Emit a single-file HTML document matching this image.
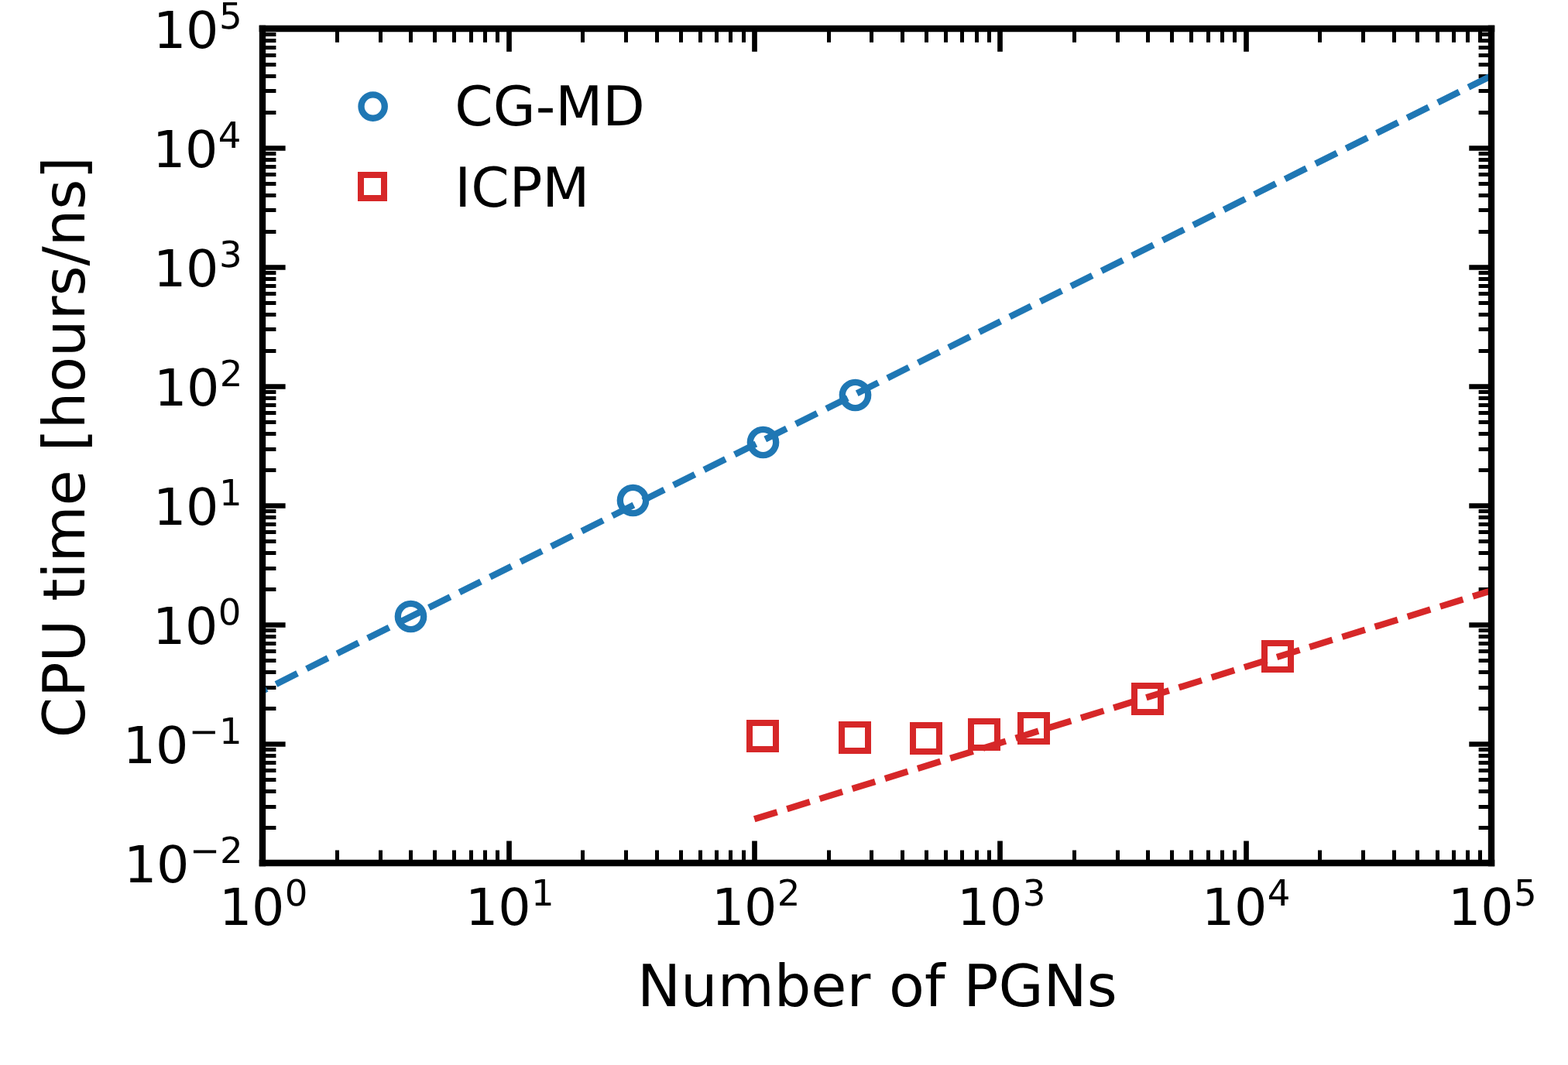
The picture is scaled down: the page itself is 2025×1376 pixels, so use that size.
<!DOCTYPE html>
<html lang="en"><head><meta charset="utf-8"><title>CPU time vs number of PGNs</title>
<style>html,body{margin:0;padding:0;background:#fff;}body{width:2025px;height:1376px;overflow:hidden;}svg{display:block;}text{font-family:'DejaVu Sans', 'Liberation Sans', sans-serif;fill:#000;text-rendering:geometricPrecision;}</style>
</head><body>
<svg width="2025" height="1376" viewBox="0 0 2025 1376">
<rect x="0" y="0" width="2025" height="1376" fill="#ffffff"/>
<defs><clipPath id="axclip"><rect x="339.00" y="37.00" width="1587.00" height="1078.00"/></clipPath></defs>
<g id="ticks" stroke="#000" fill="none" stroke-linecap="butt">
<path stroke-width="5.00" d="M435.50 1115.00V1098.53M435.50 37.00V54.67M491.50 1115.00V1098.53M491.50 37.00V54.67M530.50 1115.00V1098.53M530.50 37.00V54.67M561.50 1115.00V1098.53M561.50 37.00V54.67M586.50 1115.00V1098.53M586.50 37.00V54.67M608.50 1115.00V1098.53M608.50 37.00V54.67M626.50 1115.00V1098.53M626.50 37.00V54.67M642.50 1115.00V1098.53M642.50 37.00V54.67M752.50 1115.00V1098.53M752.50 37.00V54.67M808.50 1115.00V1098.53M808.50 37.00V54.67M848.50 1115.00V1098.53M848.50 37.00V54.67M879.50 1115.00V1098.53M879.50 37.00V54.67M904.50 1115.00V1098.53M904.50 37.00V54.67M925.50 1115.00V1098.53M925.50 37.00V54.67M943.50 1115.00V1098.53M943.50 37.00V54.67M960.50 1115.00V1098.53M960.50 37.00V54.67M1070.50 1115.00V1098.53M1070.50 37.00V54.67M1125.50 1115.00V1098.53M1125.50 37.00V54.67M1165.50 1115.00V1098.53M1165.50 37.00V54.67M1196.50 1115.00V1098.53M1196.50 37.00V54.67M1221.50 1115.00V1098.53M1221.50 37.00V54.67M1242.50 1115.00V1098.53M1242.50 37.00V54.67M1261.50 1115.00V1098.53M1261.50 37.00V54.67M1277.50 1115.00V1098.53M1277.50 37.00V54.67M1387.50 1115.00V1098.53M1387.50 37.00V54.67M1443.50 1115.00V1098.53M1443.50 37.00V54.67M1482.50 1115.00V1098.53M1482.50 37.00V54.67M1513.50 1115.00V1098.53M1513.50 37.00V54.67M1538.50 1115.00V1098.53M1538.50 37.00V54.67M1560.50 1115.00V1098.53M1560.50 37.00V54.67M1578.50 1115.00V1098.53M1578.50 37.00V54.67M1594.50 1115.00V1098.53M1594.50 37.00V54.67M1704.50 1115.00V1098.53M1704.50 37.00V54.67M1760.50 1115.00V1098.53M1760.50 37.00V54.67M1800.50 1115.00V1098.53M1800.50 37.00V54.67M1830.50 1115.00V1098.53M1830.50 37.00V54.67M1856.50 1115.00V1098.53M1856.50 37.00V54.67M1877.50 1115.00V1098.53M1877.50 37.00V54.67M1895.50 1115.00V1098.53M1895.50 37.00V54.67M1911.50 1115.00V1098.53M1911.50 37.00V54.67M339.00 1069.50H356.42M1926.00 1069.50H1909.63M339.00 1042.50H356.42M1926.00 1042.50H1909.63M339.00 1022.50H356.42M1926.00 1022.50H1909.63M339.00 1007.50H356.42M1926.00 1007.50H1909.63M339.00 995.50H356.42M1926.00 995.50H1909.63M339.00 985.50H356.42M1926.00 985.50H1909.63M339.00 976.50H356.42M1926.00 976.50H1909.63M339.00 968.50H356.42M1926.00 968.50H1909.63M339.00 915.50H356.42M1926.00 915.50H1909.63M339.00 888.50H356.42M1926.00 888.50H1909.63M339.00 868.50H356.42M1926.00 868.50H1909.63M339.00 853.50H356.42M1926.00 853.50H1909.63M339.00 841.50H356.42M1926.00 841.50H1909.63M339.00 831.50H356.42M1926.00 831.50H1909.63M339.00 822.50H356.42M1926.00 822.50H1909.63M339.00 814.50H356.42M1926.00 814.50H1909.63M339.00 761.50H356.42M1926.00 761.50H1909.63M339.00 734.50H356.42M1926.00 734.50H1909.63M339.00 714.50H356.42M1926.00 714.50H1909.63M339.00 699.50H356.42M1926.00 699.50H1909.63M339.00 687.50H356.42M1926.00 687.50H1909.63M339.00 677.50H356.42M1926.00 677.50H1909.63M339.00 668.50H356.42M1926.00 668.50H1909.63M339.00 660.50H356.42M1926.00 660.50H1909.63M339.00 607.50H356.42M1926.00 607.50H1909.63M339.00 580.50H356.42M1926.00 580.50H1909.63M339.00 560.50H356.42M1926.00 560.50H1909.63M339.00 545.50H356.42M1926.00 545.50H1909.63M339.00 533.50H356.42M1926.00 533.50H1909.63M339.00 523.50H356.42M1926.00 523.50H1909.63M339.00 514.50H356.42M1926.00 514.50H1909.63M339.00 506.50H356.42M1926.00 506.50H1909.63M339.00 453.50H356.42M1926.00 453.50H1909.63M339.00 425.50H356.42M1926.00 425.50H1909.63M339.00 406.50H356.42M1926.00 406.50H1909.63M339.00 391.50H356.42M1926.00 391.50H1909.63M339.00 379.50H356.42M1926.00 379.50H1909.63M339.00 369.50H356.42M1926.00 369.50H1909.63M339.00 360.50H356.42M1926.00 360.50H1909.63M339.00 352.50H356.42M1926.00 352.50H1909.63M339.00 299.50H356.42M1926.00 299.50H1909.63M339.00 271.50H356.42M1926.00 271.50H1909.63M339.00 252.50H356.42M1926.00 252.50H1909.63M339.00 237.50H356.42M1926.00 237.50H1909.63M339.00 225.50H356.42M1926.00 225.50H1909.63M339.00 215.50H356.42M1926.00 215.50H1909.63M339.00 206.50H356.42M1926.00 206.50H1909.63M339.00 198.50H356.42M1926.00 198.50H1909.63M339.00 145.50H356.42M1926.00 145.50H1909.63M339.00 117.50H356.42M1926.00 117.50H1909.63M339.00 98.50H356.42M1926.00 98.50H1909.63M339.00 83.50H356.42M1926.00 83.50H1909.63M339.00 71.50H356.42M1926.00 71.50H1909.63M339.00 61.50H356.42M1926.00 61.50H1909.63M339.00 52.50H356.42M1926.00 52.50H1909.63M339.00 44.50H356.42M1926.00 44.50H1909.63"/>
<path stroke-width="6.67" d="M657.50 1115.00V1086.53M657.50 37.00V66.77M974.50 1115.00V1086.53M974.50 37.00V66.77M1291.50 1115.00V1086.53M1291.50 37.00V66.77M1609.50 1115.00V1086.53M1609.50 37.00V66.77M339.00 961.50H368.62M1926.00 961.50H1897.28M339.00 807.50H368.62M1926.00 807.50H1897.28M339.00 653.50H368.62M1926.00 653.50H1897.28M339.00 499.50H368.62M1926.00 499.50H1897.28M339.00 345.50H368.62M1926.00 345.50H1897.28M339.00 191.50H368.62M1926.00 191.50H1897.28"/>
</g>
<g id="data" clip-path="url(#axclip)" fill="none">
<path d="M277.52 923.45L1960.00 80.87" stroke="#1f77b4" stroke-width="8.33" stroke-dasharray="30.83 13.33"/>
<path d="M974.20 1058.30L1960.00 752.60" stroke="#d62728" stroke-width="8.33" stroke-dasharray="30.83 13.33"/>
<circle cx="530.50" cy="796.50" r="16.67" stroke="#1f77b4" stroke-width="8.33"/>
<circle cx="817.50" cy="646.50" r="16.67" stroke="#1f77b4" stroke-width="8.33"/>
<circle cx="985.50" cy="571.50" r="16.67" stroke="#1f77b4" stroke-width="8.33"/>
<circle cx="1104.50" cy="510.50" r="16.67" stroke="#1f77b4" stroke-width="8.33"/>
<rect x="968.00" y="934.00" width="34" height="34" stroke="#d62728" stroke-width="8"/>
<rect x="1087.00" y="936.00" width="34" height="34" stroke="#d62728" stroke-width="8"/>
<rect x="1179.00" y="937.00" width="34" height="34" stroke="#d62728" stroke-width="8"/>
<rect x="1254.00" y="932.00" width="34" height="34" stroke="#d62728" stroke-width="8"/>
<rect x="1318.00" y="924.00" width="34" height="34" stroke="#d62728" stroke-width="8"/>
<rect x="1465.00" y="886.00" width="34" height="34" stroke="#d62728" stroke-width="8"/>
<rect x="1633.00" y="831.00" width="34" height="34" stroke="#d62728" stroke-width="8"/>
</g>
<path id="spines" fill="none" stroke="#000" stroke-width="8.33" stroke-linecap="butt" d="M334.55 37.00H1930.40M334.55 1115.00H1930.40M339.00 32.40V1119.55M1926.00 32.40V1119.55"/>
<g id="xticklabels">
<g transform="translate(282.90 1194.85)"><text transform="scale(1 0.9865)" font-size="66.67" dx="0 -0.25">10</text><text x="84.95" y="-24.70" font-size="46.67">0</text></g>
<g transform="translate(601.00 1194.85)"><text transform="scale(1 0.9865)" font-size="66.67" dx="0 -0.25">10</text><text x="84.95" y="-24.70" font-size="46.67">1</text></g>
<g transform="translate(918.90 1194.85)"><text transform="scale(1 0.9865)" font-size="66.67" dx="0 -0.25">10</text><text x="84.95" y="-24.70" font-size="46.67">2</text></g>
<g transform="translate(1235.90 1194.85)"><text transform="scale(1 0.9865)" font-size="66.67" dx="0 -0.25">10</text><text x="84.95" y="-24.70" font-size="46.67">3</text></g>
<g transform="translate(1551.90 1194.85)"><text transform="scale(1 0.9865)" font-size="66.67" dx="0 -0.25">10</text><text x="84.95" y="-24.70" font-size="46.67">4</text></g>
<g transform="translate(1870.00 1194.85)"><text transform="scale(1 0.9865)" font-size="66.67" dx="0 -0.25">10</text><text x="84.95" y="-24.70" font-size="46.67">5</text></g>
</g>
<g id="yticklabels">
<g transform="translate(159.95 1139.85)"><text transform="scale(1 0.9865)" font-size="66.67" dx="0 -0.25">10</text><text x="84.95" y="-24.70" font-size="46.67">−2</text></g>
<g transform="translate(158.85 985.85)"><text transform="scale(1 0.9865)" font-size="66.67" dx="0 -0.25">10</text><text x="84.95" y="-24.70" font-size="46.67">−1</text></g>
<g transform="translate(196.90 831.85)"><text transform="scale(1 0.9865)" font-size="66.67" dx="0 -0.25">10</text><text x="84.95" y="-24.70" font-size="46.67">0</text></g>
<g transform="translate(197.95 677.85)"><text transform="scale(1 0.9865)" font-size="66.67" dx="0 -0.25">10</text><text x="84.95" y="-24.70" font-size="46.67">1</text></g>
<g transform="translate(198.90 523.85)"><text transform="scale(1 0.9865)" font-size="66.67" dx="0 -0.25">10</text><text x="84.95" y="-24.70" font-size="46.67">2</text></g>
<g transform="translate(197.95 369.85)"><text transform="scale(1 0.9865)" font-size="66.67" dx="0 -0.25">10</text><text x="84.95" y="-24.70" font-size="46.67">3</text></g>
<g transform="translate(196.90 215.85)"><text transform="scale(1 0.9865)" font-size="66.67" dx="0 -0.25">10</text><text x="84.95" y="-24.70" font-size="46.67">4</text></g>
<g transform="translate(197.95 61.85)"><text transform="scale(1 0.9865)" font-size="66.67" dx="0 -0.25">10</text><text x="84.95" y="-24.70" font-size="46.67">5</text></g>
</g>
<text id="xlabel" x="1132.90" y="1300.00" font-size="75.00" text-anchor="middle">Number of PGNs</text>
<text id="ylabel" transform="translate(109.10 577.75) rotate(-90)" font-size="75.00" text-anchor="middle">CPU time [hours/ns]</text>
<g id="legend">
<circle cx="481.65" cy="137.6" r="15.15" fill="none" stroke="#1f77b4" stroke-width="8.33"/>
<rect x="466" y="226" width="30" height="30" fill="none" stroke="#d62728" stroke-width="8"/>
<text x="587.30" y="161.80" font-size="70.83">CG-MD</text>
<text x="587.30" y="267.00" font-size="70.83">ICPM</text>
</g>
</svg>
</body></html>
